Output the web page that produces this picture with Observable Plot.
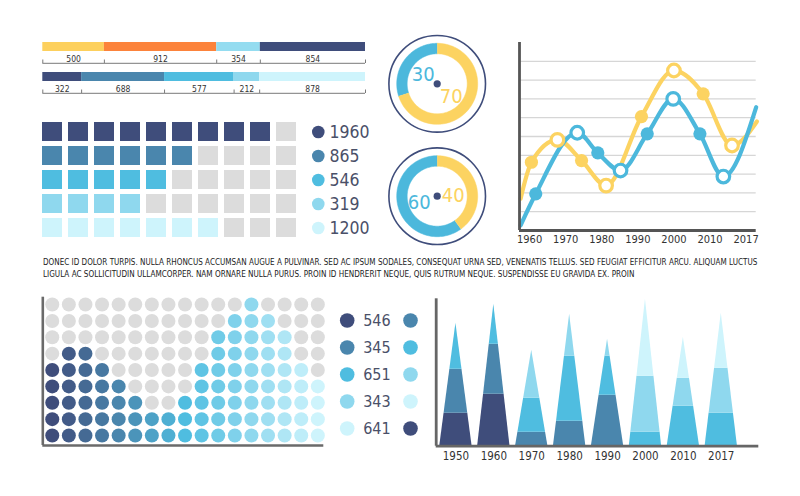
<!DOCTYPE html>
<html><head><meta charset="utf-8">
<script src="https://cdn.jsdelivr.net/npm/d3@7"></script>
<script src="https://cdn.jsdelivr.net/npm/@observablehq/plot@0.6"></script>
<style>
html,body{margin:0;padding:0;background:#fff;}
#chart{position:relative;width:800px;height:496px;overflow:hidden;background:#fff;}
#chart svg{position:absolute;left:0;top:0;}
</style></head><body><div id="chart"></div>
<script>
// ---------- data ----------
const bar1Labels = [500, 912, 354, 854];
const bar2Labels = [322, 688, 577, 212, 878];
const waffleValues = [1960, 865, 546, 319, 1200];
const waffleFilled = [9, 6, 5, 4, 7];
const donutA = [30, 70]; // blue, yellow
const donutB = [60, 40];
const lineTicks = ["1960", "1970", "1980", "1990", "2000", "2010", "2017"];
const blueX = [-0.25, 0.17, 1.32, 1.89, 2.52, 3.26, 3.98, 4.72, 5.37, 6.28];
const blueY = [0.27, 1.95, 5.2, 4.13, 3.19, 5.14, 7.0, 5.14, 2.87, 6.56];
const yellowX = [-0.25, 0.05, 0.77, 1.44, 2.12, 3.10, 4.0, 4.81, 5.61, 6.3];
const yellowY = [1.69, 3.63, 4.82, 3.72, 2.39, 6.06, 8.51, 7.27, 4.52, 5.8];
const paragraph = [
  "DONEC ID DOLOR TURPIS. NULLA RHONCUS ACCUMSAN AUGUE A PULVINAR. SED AC IPSUM SODALES, CONSEQUAT URNA SED, VENENATIS TELLUS. SED FEUGIAT EFFICITUR ARCU. ALIQUAM LUCTUS",
  "LIGULA AC SOLLICITUDIN ULLAMCORPER. NAM ORNARE NULLA PURUS. PROIN ID HENDRERIT NEQUE, QUIS RUTRUM NEQUE. SUSPENDISSE EU GRAVIDA EX. PROIN"
];
const dotHeights = [5, 6, 6, 5, 4, 3, 2, 2, 3, 5, 7, 8, 9, 8, 7, 5, 4];
const dotLegendValues = [546, 345, 651, 343, 641];
const triYears = ["1950", "1960", "1970", "1980", "1990", "2000", "2010", "2017"];
const triLayer1 = [33, 52, 14, 25, 51, 14, 40, 33];
const triLayer2 = [44, 50, 34, 65, 39, 56, 28, 45];
const triLayer3 = [46, 40, 48, 42, 17, 77, 41, 55];
const triShade = [0, 0, 1, 1, 1, 2, 2, 2];

// ---------- styles ----------
const NAVY = "#3f4d7b", STEEL = "#4a86ad", CYAN = "#4fbde0", LIGHT = "#8fd8ee", PALE = "#cef4fc";
const palette = [NAVY, STEEL, CYAN, LIGHT, PALE];
const GRAY = "#dcdcdc";
const BLUE = "#4cb8dc", YELLOW = "#fcd361";
const bar1Colors = ["#fdd05d", "#fc833b", "#94dcf0", NAVY];
const bar2Colors = [NAVY, STEEL, CYAN, LIGHT, PALE];
const FONT = "'Liberation Sans Narrow', 'DejaVu Sans Condensed', sans-serif";
const TXT = "#4a5068";

const chart = document.getElementById("chart");
function add(opts) {
  const svg = Plot.plot({width: 800, height: 496, margin: 0, color: {type: "identity"}, ...opts});
  svg.style.position = "absolute"; svg.style.left = "0px"; svg.style.top = "0px";
  svg.style.background = "transparent"; svg.style.overflow = "visible"; svg.style.maxWidth = "none";
  chart.appendChild(svg);
  return svg;
}

// ---------- 1. stacked bars ----------
const barRows = [
  ...bar1Labels.map((v, i) => ({bar: "A", v, color: bar1Colors[i]})),
  ...bar2Labels.map((v, i) => ({bar: "B", v, color: bar2Colors[i]}))
];
const barTicks = [];
[["A", bar1Labels], ["B", bar2Labels]].forEach(([bar, vals]) => {
  const tot = d3.sum(vals);
  [0, ...d3.cumsum(vals)].forEach(c => barTicks.push({bar, x: c / tot}));
});
add({
  x: {domain: [0, 1], range: [42.3, 365], axis: null},
  y: {type: "band", domain: ["A", "B"], range: [42.3, 82.6], paddingInner: 0.7, paddingOuter: 0, align: 0, axis: null},
  marks: [
    Plot.barX(barRows, Plot.stackX({x: "v", y: "bar", fill: "color", offset: "normalize", order: null, inset: 0})),
    Plot.ruleY(["A", "B"], {y: d => d, x1: 0, x2: 1, dy: 16.3, stroke: "#7a7a7a", strokeWidth: 1}),
    Plot.tickX(barTicks, {x: "x", y: "bar", dy: 13, insetTop: 4.5, insetBottom: 1, stroke: "#7a7a7a", strokeWidth: 1}),
    Plot.text(barRows, Plot.stackX({x: "v", y: "bar", text: d => String(d.v), offset: "normalize", order: null, dy: 12.5, fontSize: 8.5, fill: "#333", fontFamily: FONT}))
  ]
});

// ---------- 2. waffle ----------
const cells = [];
waffleFilled.forEach((n, r) => { for (let c = 0; c < 10; c++) cells.push({r, c, on: c < n}); });
const waffleRows = waffleValues.map((v, r) => ({r, v}));
add({
  x: {type: "band", domain: d3.range(10), range: [42.3, 298.1], paddingInner: 0.237, paddingOuter: 0, align: 0, axis: null},
  y: {type: "band", domain: d3.range(5), range: [122.3, 241], paddingInner: 0.214, paddingOuter: 0, align: 0, axis: null},
  marks: [
    Plot.cell(cells, {x: "c", y: "r", fill: d => d.on ? palette[d.r] : GRAY, inset: 0}),
    Plot.dot(waffleRows, {x: () => 9, y: "r", dx: 31.8, r: 6.3, fill: d => palette[d.r]}),
    Plot.text(waffleRows, {x: () => 9, y: "r", dx: 43, text: d => String(d.v), textAnchor: "start", fontSize: 17.5, fill: TXT, fontFamily: FONT, fontWeight: 300})
  ]
});

// ---------- 3. donuts ----------
function arcPts(a0, a1, ro, ri, key) {
  const pts = [], n = 90;
  for (let k = 0; k <= n; k++) { const a = a0 + (a1 - a0) * k / n; pts.push({x: ro * Math.sin(a), y: ro * Math.cos(a), key}); }
  for (let k = n; k >= 0; k--) { const a = a0 + (a1 - a0) * k / n; pts.push({x: ri * Math.sin(a), y: ri * Math.cos(a), key}); }
  return pts;
}
function makeDonut(values, cx, cy, labelPos) {
  const tot = d3.sum(values);
  const bluePts = arcPts(-values[0] / tot * 2 * Math.PI, 0, 40.5, 30, "b");
  const yelPts = arcPts(0, values[1] / tot * 2 * Math.PI, 40.5, 30, "y");
  const labels = values.map((v, i) => ({v, x: labelPos[i][0], y: labelPos[i][1], c: i ? YELLOW : BLUE}));
  add({
    x: {domain: [-50, 50], range: [cx - 50, cx + 50], axis: null},
    y: {domain: [-50, 50], range: [cy + 50, cy - 50], axis: null},
    marks: [
      Plot.line(bluePts, {x: "x", y: "y", fill: BLUE, stroke: BLUE, strokeWidth: 0.5}),
      Plot.line(yelPts, {x: "x", y: "y", fill: YELLOW, stroke: YELLOW, strokeWidth: 0.5}),
      Plot.dot([0], {x: () => 0, y: () => 0, r: 48.3, stroke: NAVY, fill: "none", strokeWidth: 1.6}),
      Plot.dot([0], {x: () => 0, y: () => 0, r: 3.6, fill: NAVY}),
      Plot.text(labels, {x: "x", y: "y", text: d => String(d.v), fill: "c", fontSize: 20, fontFamily: FONT, fontWeight: 300})
    ]
  });
}
makeDonut(donutA, 436.7, 83.3, [[-14, 9], [14, -13]]);
makeDonut(donutB, 436.7, 195.7, [[-18, -6], [16, 1]]);

// ---------- 4. line chart ----------
const bluePts = blueX.map((x, i) => ({x, y: blueY[i], i}));
const yelPts = yellowX.map((x, i) => ({x, y: yellowY[i], i}));
const filledPts = (pts) => pts.slice(1, -1).filter(d => d.i % 2 === 1);
const openPts = (pts) => pts.slice(1, -1).filter(d => d.i % 2 === 0);
add({
  x: {domain: [-0.28, 6.28], range: [519, 755.7], axis: null},
  y: {domain: [0, 10], range: [230, 42], axis: null},
  marks: [
    Plot.ruleY(d3.range(1, 10), {x1: -0.28, x2: 6.28, stroke: "#d6d6d6", strokeWidth: 1.3}),
    Plot.line(yelPts, {x: "x", y: "y", curve: "monotone-x", stroke: YELLOW, strokeWidth: 4.2}),
    Plot.line(bluePts, {x: "x", y: "y", curve: "monotone-x", stroke: BLUE, strokeWidth: 4.2}),
    Plot.dot(filledPts(yelPts), {x: "x", y: "y", r: 6.6, fill: YELLOW}),
    Plot.dot(openPts(yelPts), {x: "x", y: "y", r: 6.3, fill: "white", stroke: YELLOW, strokeWidth: 3.2}),
    Plot.dot(filledPts(bluePts), {x: "x", y: "y", r: 6.6, fill: BLUE}),
    Plot.dot(openPts(bluePts), {x: "x", y: "y", r: 6.3, fill: "white", stroke: BLUE, strokeWidth: 3.2}),
    Plot.ruleX([-0.28], {y1: 0, y2: 10, stroke: "#555", strokeWidth: 2.8}),
    Plot.ruleY([0], {x1: -0.28, x2: 6.28, stroke: "#555", strokeWidth: 2.8}),
    Plot.text(lineTicks, {x: (d, i) => i, y: () => 0, dy: 9, text: d => d, fontSize: 11, fill: "#333", fontFamily: FONT})
  ]
});

// ---------- 5. paragraph ----------
{
  const svg = d3.create("svg").attr("width", 800).attr("height", 496).style("position", "absolute").style("left", "0px").style("top", "0px");
  chart.appendChild(svg.node());
  const targets = [715, 592];
  paragraph.forEach((line, i) => {
    const t = svg.append("text")
      .attr("font-family", FONT).attr("font-size", 9.5).attr("fill", "#222")
      .text(line);
    const natural = t.node().getComputedTextLength() || targets[i];
    const sx = targets[i] / natural;
    t.attr("transform", `translate(43,${264.5 + i * 12}) scale(${sx},1)`);
  });
}

// ---------- 6. dot grid ----------
const colColor = d3.scaleLinear().domain(d3.range(5).map(k => k * 16 / 4)).range(palette).interpolate(d3.interpolateRgb);
const dotCells = [];
dotHeights.forEach((h, c) => { for (let r = 0; r < 9; r++) dotCells.push({c, r, on: r < h}); });
add({
  x: {domain: [-0.57, 16.36], range: [42.3, 323.3], axis: null},
  y: {domain: [-0.61, 8.45], range: [445, 296.7], axis: null},
  marks: [
    Plot.dot(dotCells, {x: "c", y: "r", r: 7, fill: d => d.on ? colColor(d.c) : GRAY}),
    Plot.ruleX([-0.57], {y1: -0.61, y2: 8.45, stroke: "#6a6a6a", strokeWidth: 2.6}),
    Plot.ruleY([-0.61], {x1: -0.57, x2: 16.36, stroke: "#6a6a6a", strokeWidth: 2.6})
  ]
});
const dotLegend = dotLegendValues.map((v, i) => ({v, i}));
add({
  x: {domain: [0, 1], range: [346.7, 410], axis: null},
  y: {type: "point", domain: d3.range(5), range: [305, 443.3], axis: null},
  marks: [
    Plot.dot(dotLegend, {x: () => 0, y: "i", r: 7.3, fill: d => palette[d.i]}),
    Plot.dot(dotLegend, {x: () => 1, y: "i", r: 7.3, fill: d => palette[(d.i + 1) % 5]}),
    Plot.text(dotLegend, {x: () => 0, y: "i", dx: 16, text: d => String(d.v), textAnchor: "start", fontSize: 16, fill: TXT, fontFamily: FONT, fontWeight: 300})
  ]
});

// ---------- 7. triangles ----------
const HW = 0.427;
const triPts = [];
triYears.forEach((yr, i) => {
  const layers = [triLayer1[i], triLayer2[i], triLayer3[i]];
  const H = d3.sum(layers);
  let a = 0;
  layers.forEach((h, k) => {
    const b = a + h, key = yr + "-" + k, color = palette[triShade[i] + k];
    [a, b].forEach(y => triPts.push({key, color, y, x1: i - HW * (1 - y / H), x2: i + HW * (1 - y / H)}));
    a = b;
  });
});
add({
  x: {domain: [-0.52, 7.99], range: [435.7, 758.3], axis: null},
  y: {domain: [0, 147.4], range: [445.7, 298.3], axis: null},
  marks: [
    Plot.areaX(triPts, {y: "y", x1: "x1", x2: "x2", z: "key", fill: "color"}),
    Plot.ruleX([-0.52], {y1: 0, y2: 147.4, stroke: "#666", strokeWidth: 2.8}),
    Plot.ruleY([0], {x1: -0.52, x2: 7.99, stroke: "#666", strokeWidth: 2.8}),
    Plot.text(triYears, {x: (d, i) => i, y: () => 0, dy: 10.5, text: d => d, fontSize: 11.5, fill: "#333", fontFamily: FONT})
  ]
});
</script></body></html>
